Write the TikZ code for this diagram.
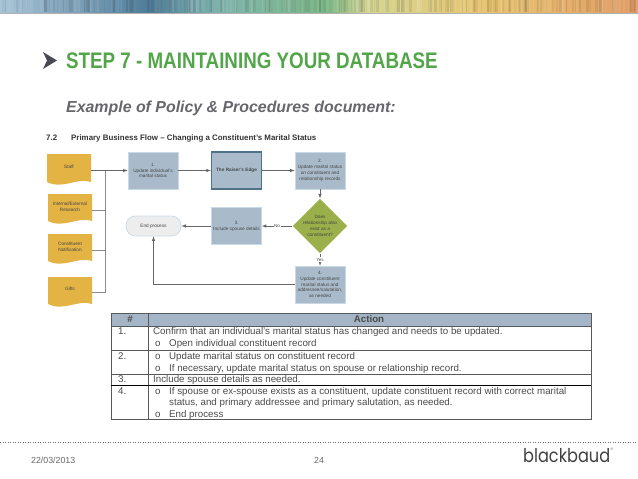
\documentclass[tikz,border=0pt]{standalone}
\usepackage{fontspec}
\setmainfont{Liberation Sans}
\newfontfamily\logofont{Poppins}
\usetikzlibrary{shapes.geometric}
\definecolor{stepgreen}{HTML}{52A548}
\definecolor{subgray}{HTML}{66666C}
\definecolor{bulletgray}{HTML}{4A4A55}
\definecolor{boxblue}{HTML}{A9BBCB}
\definecolor{boxedge}{HTML}{C9DAE6}
\definecolor{raiseredge}{HTML}{4F7288}
\definecolor{docyellow}{HTML}{E3B344}
\definecolor{askgreen}{HTML}{9BB04A}
\definecolor{headblue}{HTML}{A3B5C7}
\definecolor{flowtext}{HTML}{454545}
\definecolor{celltext}{HTML}{4A4A4A}
\definecolor{bandA}{HTML}{A9C4D8}
\definecolor{bandB}{HTML}{4F7C98}
\definecolor{bandC}{HTML}{7FB4AC}
\definecolor{bandD}{HTML}{7CB685}
\definecolor{bandE}{HTML}{D3D592}
\definecolor{bandF}{HTML}{E8C470}
\definecolor{bandG}{HTML}{E09C66}
\newcommand{\docshape}[3]{% left, top, bottom
  \fill[docyellow] (#1,#2) -- ++(44,0) -- (#1+44,#3-5)
    .. controls (#1+30,#3-10) and (#1+16,#3+3) .. (#1,#3-5) -- cycle;
}
\begin{document}
\begin{tikzpicture}[x=1pt,y=-1pt,
  flowbox/.style={fill=boxblue,draw=boxedge,line width=.5pt,minimum width=50pt,minimum height=37pt,
    inner sep=0pt,align=center,text=flowtext,font=\fontsize{4.7}{5.8}\selectfont},
  docbox/.style={minimum width=44pt,minimum height=26pt,inner sep=0pt,align=center,text=flowtext,
    font=\fontsize{4.7}{5.8}\selectfont},
  flow/.style={draw=black!60,line width=.6pt},
  feed/.style={draw=black!45,line width=.7pt},
  flowarrow/.style={flow,->,>=latex},
  flowlabel/.style={fill=white,inner sep=.6pt,text=flowtext,font=\fontsize{4.5}{5}\selectfont},
  cell/.style={anchor=base west,inner sep=0pt,text=celltext,font=\fontsize{9.75}{11}\selectfont},
  rowline/.style={draw=black!65,line width=.7pt},
  foot/.style={text=black!60,inner sep=0pt,font=\fontsize{8.8}{10}\selectfont}]
\useasboundingbox (0,0) rectangle (638,479);

% banner
\fill[black!30] (0,12) rectangle (638,13.5);
\shade[left color=bandA,right color=bandB] (0,0) rectangle (150,12);
\shade[left color=bandB,right color=bandC] (150,0) rectangle (220,12);
\shade[left color=bandC,right color=bandD] (220,0) rectangle (330,12);
\shade[left color=bandD,right color=bandE] (330,0) rectangle (365,12);
\shade[left color=bandE,right color=bandF] (365,0) rectangle (490,12);
\shade[left color=bandF,right color=bandG] (490,0) rectangle (638,12);
\pgfmathsetseed{11}
\foreach \i in {1,...,170}{
  \pgfmathsetmacro\sx{random(0,636)}
  \pgfmathsetmacro\sw{1+2*rnd}
  \pgfmathsetmacro\so{.03+.07*rnd}
  \fill[black,opacity=\so] (\sx,0) rectangle (\sx+\sw,12);
  \pgfmathsetmacro\sx{random(0,636)}
  \fill[white,opacity=\so] (\sx,0) rectangle (\sx+\sw,12);
}

% title
\fill[bulletgray] (43,52) -- (57,60.5) -- (43,69) -- (47,60.5) -- cycle;
\node[anchor=west,inner sep=0pt,xscale=.835,text=stepgreen,font=\fontsize{22.5}{24}\selectfont\bfseries] (title) at (66,60.5) {STEP 7 - MAINTAINING YOUR DATABASE};
\node[anchor=west,inner sep=0pt,text=subgray,font=\fontsize{15.9}{17}\selectfont\bfseries\itshape] (subtitle) at (66,108) {Example of Policy \& Procedures document:};

% flow heading
\node[anchor=west,inner sep=0pt,text=black!80,font=\fontsize{7.9}{9}\selectfont\bfseries] (secno) at (46,138) {7.2};
\node[anchor=west,inner sep=0pt,text=black!80,font=\fontsize{7.9}{9}\selectfont\bfseries] (sechead) at (71,138) {Primary Business Flow – Changing a Constituent's Marital Status};

% source documents
\docshape{47}{154}{187}
\docshape{48}{194}{226}
\docshape{48}{234}{266}
\docshape{48}{277}{309}
\node[docbox] (staff) at (69,167) {Staff};
\node[docbox] (research) at (70,207) {Internal/External\\Research};
\node[docbox] (notify) at (70,246.5) {Constituent\\Notification};
\node[docbox] (gifts) at (70,288.5) {Gifts};

% process steps
\node[flowbox] (update) at (153,170.5) {1.\\Update individual's\\marital status};
\node[flowbox,draw=raiseredge,line width=1.3pt] (raiser) at (236.5,170.5) {\textbf{The Raiser's Edge}};
\node[flowbox] (records) at (320,170.5) {2.\\Update marital status\\on constituent and\\relationship records};
\node[flowbox] (spouse) at (236.5,226) {3.\\Include spouse details};
\node[flowbox] (address) at (320,284.5) {4.\\Update constituent\\marital status and\\addressee/salutation,\\as needed};
\node[diamond,fill=askgreen,minimum width=54pt,minimum height=41pt,inner sep=0pt,align=center,text=flowtext,font=\fontsize{4.7}{5.8}\selectfont] (exists) at (320,226) {Does\\relationship also\\exist as a\\constituent?};
\node[rounded corners=9.5pt,fill=black!7,draw=boxedge,line width=.7pt,minimum width=55pt,minimum height=20pt,inner sep=0pt,text=flowtext,font=\fontsize{4.7}{5.8}\selectfont] (endproc) at (153.5,226) {End process};

% connectors
\coordinate (staffout) at ([yshift=-3.5pt]staff.east);
\coordinate (researchout) at ([yshift=-3.5pt]research.east);
\coordinate (notifyout) at ([yshift=-3.5pt]notify.east);
\coordinate (giftsout) at ([yshift=-3.5pt]gifts.east);
\coordinate (bus) at (105,170.5);
\draw[flowarrow] (staffout) -- (update.west);
\draw[feed] (researchout) -- (bus |- researchout);
\draw[feed] (notifyout) -- (bus |- notifyout);
\draw[feed] (giftsout) -- (bus |- giftsout) -- (bus);
\draw[flowarrow] (update.east) -- (raiser.west);
\draw[flowarrow] (raiser.east) -- (records.west);
\draw[flowarrow] (records.south) -- (exists.north);
\draw[flowarrow] (exists.west) -- node[flowlabel] (nolabel) {No} (spouse.east);
\draw[flowarrow] (spouse.west) -- (endproc.east);
\draw[flowarrow] (exists.south) -- node[flowlabel] (yeslabel) {Yes} (address.north);
\draw[flowarrow] (address.west) -| (endproc.south);

% action table
\fill[headblue] (111,313) rectangle (591,326);
\draw[rowline] (111,313) rectangle (591,419);
\draw[rowline] (148,313) -- (148,419);
\draw[rowline] (111,326) -- (591,326);
\draw[rowline] (111,350) -- (591,350);
\draw[rowline] (111,374) -- (591,374);
\draw[rowline,black] (111,385) -- (591,385);
\node[cell,anchor=base,font=\fontsize{9.75}{11}\selectfont\bfseries] (hnum) at (130,322.5) {\#};
\node[cell,anchor=base,font=\fontsize{9.75}{11}\selectfont\bfseries] (haction) at (369,322.5) {Action};
\foreach \nm/\ty/\tx in {n1/334.5/1., n2/359/2., n3/382.5/3., n4/394/4.}
  \node[cell] (\nm) at (118,\ty) {\tx};
\node[cell] (c1) at (153,334.5) {Confirm that an individual's marital status has changed and needs to be updated.};
\node[cell] (b1) at (155,346) {o};
\node[cell] (c1a) at (169,346) {Open individual constituent record};
\node[cell] (b2) at (155,359) {o};
\node[cell] (c2a) at (169,359) {Update marital status on constituent record};
\node[cell] (b3) at (155,371) {o};
\node[cell] (c2b) at (169,371) {If necessary, update marital status on spouse or relationship record.};
\node[cell] (c3) at (153,382.5) {Include spouse details as needed.};
\node[cell] (b4) at (155,394) {o};
\node[cell] (c4a) at (169,394) {If spouse or ex-spouse exists as a constituent, update constituent record with correct marital};
\node[cell] (c4b) at (169,405.5) {status, and primary addressee and primary salutation, as needed.};
\node[cell] (b5) at (155,417) {o};
\node[cell] (c4c) at (169,417) {End process};

% footer
\coordinate (footL) at (0,442);
\coordinate (footR) at (638,442);
\draw[black!55,line width=.5pt,dotted] (footL) -- (footR);
\node[foot,anchor=west] (date) at (31,460) {22/03/2013};
\node[foot] (page) at (319,460) {24};
\node[anchor=west,inner sep=0pt,xscale=.85,text=black!75,font=\fontsize{19}{21}\selectfont\logofont] (logo) at (523,455.5) {blackbaud};
\node[anchor=west,inner sep=0pt,text=black!60,font=\fontsize{3.5}{4}\selectfont] (reg) at (610.5,449.5) {®};
\end{tikzpicture}
\end{document}
